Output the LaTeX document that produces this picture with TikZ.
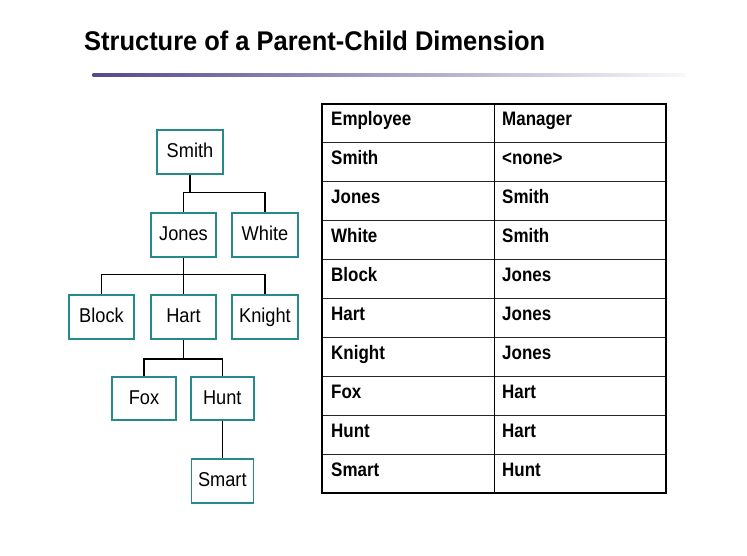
\documentclass[tikz,border=0pt]{standalone}
\usepackage{fontspec}
\setmainfont{Liberation Sans}
\usepackage{graphicx}
\definecolor{boxteal}{RGB}{38,138,140}
\definecolor{barpurple}{RGB}{86,72,140}
\definecolor{barend}{RGB}{248,248,250}
\tikzset{
  person/.style={draw=boxteal, line width=1.4pt, fill=white, minimum height=44pt,
    inner sep=0pt, text height=14.5pt, text depth=3pt,
    font=\fontsize{20}{24}\selectfont},
  link/.style={line width=1.2pt, black},
  cell/.style={anchor=base west, inner sep=0pt, font=\fontsize{19.5}{23}\selectfont\bfseries},
}
\newcommand{\tn}[1]{\scalebox{0.91}[1]{#1}}
\newcommand{\cn}[1]{\scalebox{0.87}[1]{#1}}
\begin{document}
\begin{tikzpicture}[x=1pt,y=-1pt]
\useasboundingbox (0,0) rectangle (747,556);
% title
\node[anchor=base west, inner sep=0pt, font=\fontsize{27}{32}\selectfont\bfseries] (title) at (84,51)
  {\resizebox{461pt}{\height}{Structure of a Parent-Child Dimension}};
\shade[left color=barpurple, right color=barend] (92.7,73.8) rectangle (685,76.4);

% tree nodes
\node[person, minimum width=66pt] (smith) at (190,152) {\tn{Smith}};
\node[person, minimum width=65pt] (jones) at (183.5,235) {\tn{Jones}};
\node[person, minimum width=66pt] (white) at (265,235) {\tn{White}};
\node[person, minimum width=65pt] (block) at (101.5,317) {\tn{Block}};
\node[person, minimum width=65pt] (hart) at (183.5,317) {\tn{Hart}};
\node[person, minimum width=66pt] (knight) at (265,317) {\tn{Knight}};
\node[person, minimum width=64pt, minimum height=43pt] (fox) at (144,398.5) {\tn{Fox}};
\node[person, minimum width=63pt, minimum height=43pt] (hunt) at (222.3,398.5) {\tn{Hunt}};
\node[person, minimum width=62pt] (smart) at (222.3,481) {\tn{Smart}};

% connectors
\coordinate (b1) at (0,192.7);
\coordinate (b2) at (0,274.3);
\coordinate (b3) at (0,359);
\draw[link] (smith.south) -- (smith.south |- b1) -| (jones.north);
\draw[link] (smith.south |- b1) -| (white.north);
\draw[link] (jones.south) -- (hart.north);
\draw[link] (jones.south |- b2) -| (block.north);
\draw[link] (jones.south |- b2) -| (knight.north);
\draw[link] (hart.south) -- (hart.south |- b3) -| (fox.north);
\draw[link] (hart.south |- b3) -| (hunt.north);
\draw[link] (hunt.south) -- (smart.north);

% table
\foreach \i in {1,...,9} {
  \draw[line width=1pt, black!85] (322,{104+38.9*\i}) -- (667,{104+38.9*\i});
}
\draw[line width=1.4pt] (494.3,104) -- (494.3,493);
\draw[line width=2.4pt] (322,104) rectangle (666,493);

\foreach \e/\m [count=\i from 0] in {Employee/Manager, Smith/{<none>}, Jones/Smith, White/Smith,
   Block/Jones, Hart/Jones, Knight/Jones, Fox/Hart, Hunt/Hart, Smart/Hunt} {
  \node[cell] (e\i) at (331,{126+38.9*\i}) {\cn{\e}};
  \node[cell] (m\i) at (502,{126+38.9*\i}) {\cn{\m}};
}
\end{tikzpicture}
\end{document}
